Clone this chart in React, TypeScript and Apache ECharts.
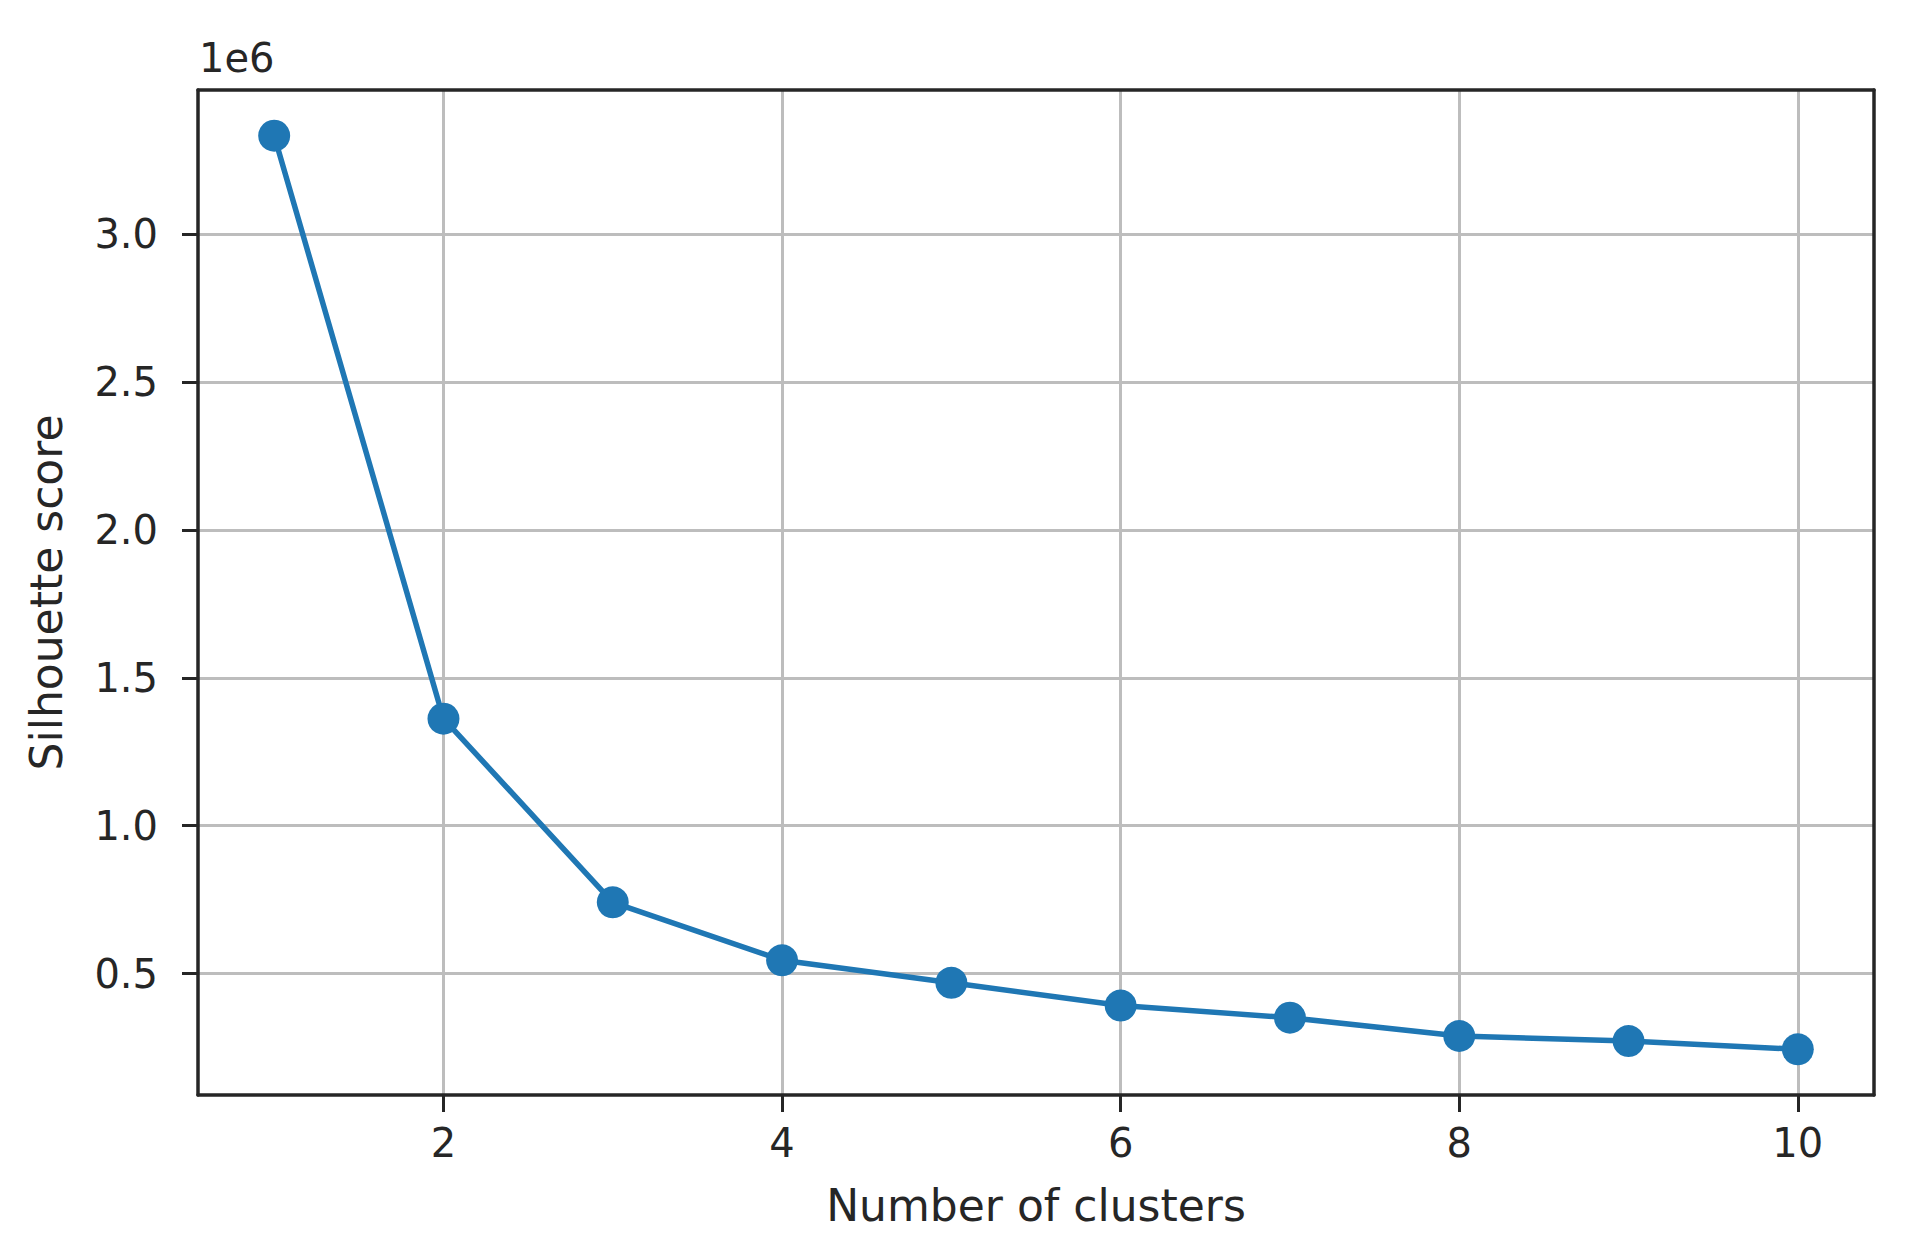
import React, { useEffect, useRef } from "react";
import * as echarts from "echarts";

// Number of clusters (x) and score values in units of 1e6 (y)
const clusters: number[] = [1, 2, 3, 4, 5, 6, 7, 8, 9, 10];
const scoresMillions: number[] = [3.333, 1.362, 0.741, 0.545, 0.469, 0.392, 0.351, 0.289, 0.272, 0.244];
const xTicks: number[] = [2, 4, 6, 8, 10];
const yTicks: number[] = [0.5, 1.0, 1.5, 2.0, 2.5, 3.0];
const xLabel = "Number of clusters";
const yLabel = "Silhouette score";
const offsetText = "1e6";

const FONT = "DejaVu Sans";
const DARK = "#262626";
const GRIDC = "#bdbdbd";
const BLUE = "#1f77b4";

export default function App() {
  const ref = useRef<HTMLDivElement>(null);
  useEffect(() => {
    if (!ref.current) return;
    const chart = echarts.init(ref.current, null, { renderer: "svg" });
    const xs = clusters;
    const ys = scoresMillions;
    const xMin = Math.min(...xs), xMax = Math.max(...xs);
    const yMin = Math.min(...ys), yMax = Math.max(...ys);
    const xPad = (xMax - xMin) * 0.05;
    const yPad = (yMax - yMin) * 0.05;
    const xr: [number, number] = [xMin - xPad, xMax + xPad];
    const yr: [number, number] = [yMin - yPad, yMax + yPad];
    chart.setOption({
      animation: false,
      backgroundColor: "#ffffff",
      textStyle: { fontFamily: FONT },
      grid: {
        left: 198,
        top: 90,
        right: 41,
        bottom: 157,
        show: false,
      },
      graphic: [
        {
          type: "text",
          left: 199,
          top: 38,
          style: { text: offsetText, font: `40px "${FONT}"`, fill: DARK },
        },
      ],
      xAxis: [
        {
          type: "value",
          min: xr[0],
          max: xr[1],
          minInterval: 2,
          maxInterval: 2,
          name: xLabel,
          nameLocation: "middle",
          nameGap: 88,
          nameTextStyle: { fontFamily: FONT, fontSize: 44, color: DARK },
          axisLine: { show: true, onZero: false, lineStyle: { color: DARK, width: 3.5 } },
          axisTick: {
            show: true,
            inside: false,
            length: 17,
            customValues: xTicks,
            lineStyle: { color: DARK, width: 3 },
          },
          axisLabel: {
            show: true,
            customValues: xTicks,
            margin: 28,
            fontFamily: FONT,
            fontSize: 40,
            color: DARK,
            formatter: (v: number) => String(Math.round(v)),
          },
          splitLine: { show: false },
          z: 3,
        },
        {
          type: "value",
          position: "top",
          min: xr[0],
          max: xr[1],
          axisLine: { show: true, onZero: false, lineStyle: { color: DARK, width: 3.5 } },
          axisTick: { show: false },
          axisLabel: { show: false },
          splitLine: { show: false },
          z: 3,
        },
      ],
      yAxis: [
        {
          type: "value",
          min: yr[0],
          max: yr[1],
          minInterval: 0.5,
          maxInterval: 0.5,
          name: yLabel,
          nameLocation: "middle",
          nameGap: 130,
          nameRotate: 90,
          nameTextStyle: { fontFamily: FONT, fontSize: 44, color: DARK },
          axisLine: { show: true, onZero: false, lineStyle: { color: DARK, width: 3.5 } },
          axisTick: {
            show: true,
            inside: false,
            length: 16,
            customValues: yTicks,
            lineStyle: { color: DARK, width: 3 },
          },
          axisLabel: {
            show: true,
            customValues: yTicks,
            margin: 40,
            fontFamily: FONT,
            fontSize: 40,
            color: DARK,
            formatter: (v: number) => v.toFixed(1),
          },
          splitLine: { show: false },
          z: 3,
        },
        {
          type: "value",
          position: "right",
          min: yr[0],
          max: yr[1],
          axisLine: { show: true, onZero: false, lineStyle: { color: DARK, width: 3.5 } },
          axisTick: { show: false },
          axisLabel: { show: false },
          splitLine: { show: false },
          z: 3,
        },
      ],
      series: [
        {
          type: "line",
          data: xs.map((x, i) => [x, ys[i]]),
          symbol: "circle",
          symbolSize: 32,
          showSymbol: true,
          itemStyle: { color: BLUE },
          lineStyle: { color: BLUE, width: 5.5 },
          z: 5,
          markLine: {
            silent: true,
            symbol: "none",
            label: { show: false },
            lineStyle: { color: GRIDC, width: 3, type: "solid" },
            z: 1,
            data: [
              ...xTicks.map((v) => ({ xAxis: v })),
              ...yTicks.map((v) => ({ yAxis: v })),
            ],
          },
        },
      ],
    });
    return () => chart.dispose();
  }, []);
  return (
    <div
      ref={ref}
      style={{ position: "fixed", left: 0, top: 0, width: 1915, height: 1252, background: "#fff" }}
    />
  );
}
